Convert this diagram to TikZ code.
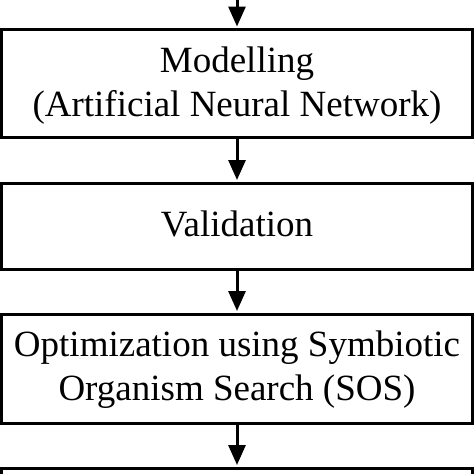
\documentclass[tikz,border=0pt]{standalone}
\usepackage{fontspec}
\setmainfont{Liberation Serif}
\usetikzlibrary{arrows.meta}
\newcommand{\shiftdown}[2]{\raisebox{-#1}[\height][\depth]{\begin{tabular}{@{}c@{}}#2\end{tabular}}}
\begin{document}
\begin{tikzpicture}[x=1pt,y=-1pt,
  stepbox/.style={draw=black,line width=3pt,rectangle,minimum width=471pt,
    inner sep=0pt,align=center,font=\fontsize{37}{44}\selectfont},
  flow/.style={draw=black,line width=3pt,-{Triangle[width=17pt,length=20pt]}}]
\useasboundingbox (0,0) rectangle (474,474);
\begin{scope}
\clip (0,0) rectangle (474,474);
\coordinate (top) at (237,-12);
\node[stepbox,minimum height=108pt] (model) at (237,83.5) {\shiftdown{2.5pt}{Modelling\\(Artificial Neural Network)}};
\node[stepbox,minimum height=86pt] (valid) at (237,226) {\shiftdown{2pt}{Validation}};
\node[stepbox,minimum height=109pt] (opt) at (237,368.5) {\shiftdown{1pt}{Optimization using Symbiotic\\Organism Search (SOS)}};
\node[stepbox,minimum height=108pt] (next) at (237,522) {};
\draw[flow] (top) -- ([yshift=1.5pt]model.north);
\draw[flow] (model.south) -- ([yshift=1.5pt]valid.north);
\draw[flow] (valid.south) -- ([yshift=1.5pt]opt.north);
\draw[flow] (opt.south) -- ([yshift=1.5pt]next.north);
\end{scope}
\end{tikzpicture}
\end{document}
